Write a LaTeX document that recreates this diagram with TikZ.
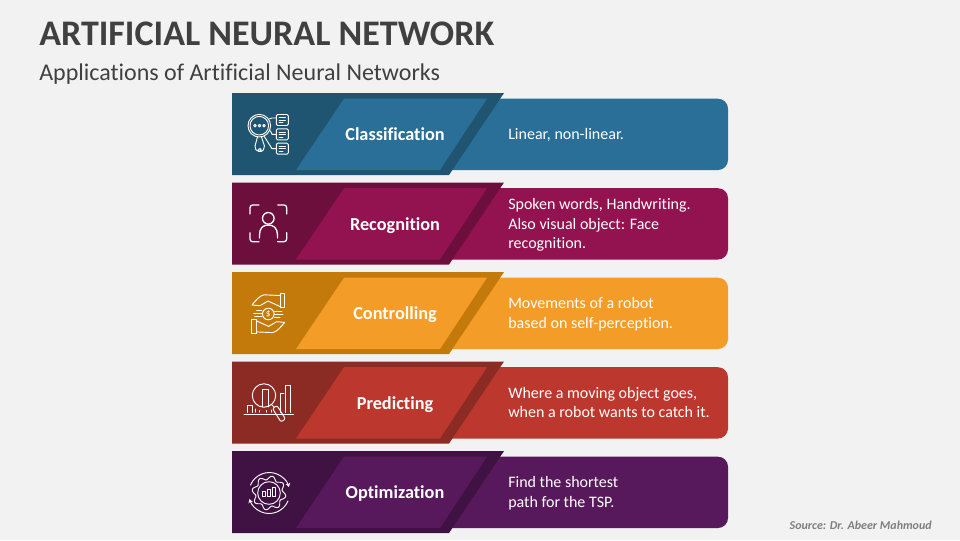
\documentclass[tikz,border=0pt]{standalone}
\usepackage{fontspec}
\setmainfont[Ligatures=NoCommon]{Carlito}
\usetikzlibrary{arrows.meta}
\definecolor{pagegray}{HTML}{F2F2F2}
\definecolor{titlegray}{HTML}{404040}
\definecolor{sourcegray}{HTML}{7F7F7F}
\definecolor{bluedark}{HTML}{1F5570}
\definecolor{bluemain}{HTML}{2A6F97}
\definecolor{maroondark}{HTML}{6D0F3C}
\definecolor{maroonmain}{HTML}{921350}
\definecolor{orangedark}{HTML}{C47A0A}
\definecolor{orangemain}{HTML}{F39C27}
\definecolor{reddark}{HTML}{8B2B23}
\definecolor{redmain}{HTML}{BC382E}
\definecolor{purpledark}{HTML}{401243}
\definecolor{purplemain}{HTML}{57195B}
\tikzset{
  bandlabel/.style={text=white,anchor=base,inner sep=0pt,font=\fontsize{13.7}{15}\selectfont\bfseries},
  bandtext/.style={text=white,anchor=west,align=left,inner sep=0pt,font=\fontsize{12}{14.5}\selectfont},
  iconline/.style={draw=white,line width=0.7pt,line join=round,line cap=round}
}
\newcommand{\appband}[6]{%
  \fill[#3] (440,#1+5.7) [rounded corners=7.5pt] --(728,#1+5.7) --(728,#1+77) [sharp corners] --(440,#1+77) --cycle;
  \fill[#2] (232,#1) --(504,#1) --(449,#1+82) --(232,#1+82) --cycle;
  \fill[#3] (344,#1+5.7) --(487,#1+5.7) --(440,#1+77) --(296,#1+77) --cycle;
  \node[bandlabel] (#4) at (395,#1+47.5) {#5};
  \node[bandtext] (#4 text) at (508,#1+42.7) {\strut #6\strut};
}
\begin{document}
\begin{tikzpicture}[x=0.75pt,y=-0.75pt]
    \useasboundingbox[fill=pagegray] (0,0) rectangle (960,540);
    \node[anchor=base west,inner sep=0pt,text=titlegray,font=\fontsize{27}{30}\selectfont\bfseries] (title) at (39,45.5) {ARTIFICIAL NEURAL NETWORK};
    \node[anchor=base west,inner sep=0pt,text=titlegray,font=\fontsize{18}{20}\selectfont] (subtitle) at (39,80.7) {Applications of Artificial Neural Networks};
    \node[anchor=base east,inner sep=0pt,text=sourcegray,font=\fontsize{9}{10}\selectfont\bfseries\itshape] (source) at (932,529) {Source: Dr. Abeer Mahmoud};
    \appband{93}{bluedark}{bluemain}{classification}{Classification}{Linear, non-linear.}
    \appband{182.5}{maroondark}{maroonmain}{recognition}{Recognition}{Spoken words, Handwriting.\\Also visual object: Face\\recognition.}
    \appband{272}{orangedark}{orangemain}{controlling}{Controlling}{Movements of a robot\\based on self-perception.}
    \appband{361.5}{reddark}{redmain}{predicting}{Predicting}{Where a moving object goes,\\when a robot wants to catch it.}
    \appband{451}{purpledark}{purplemain}{optimization}{Optimization}{Find the shortest\\path for the TSP.}
    \draw[iconline] (259.3,125.7) circle (11.3);
    \draw[iconline] (259.3,125.7) circle (9.3);
    \foreach \x in {255,259.5,264}
      \draw[iconline] (\x,125.7) circle (1.3);
    \draw[iconline] (257.5,137) --(255,146) arc (190:-10:4.8) --(261.5,137);
    \draw[iconline] (259.8,150) circle (1.6);
    \foreach \y in {120,134.3,148.7} {
      \draw[iconline,rounded corners=1pt] (276.3,\y-5.5) rectangle (288.3,\y+5.5);
      \draw[iconline,line width=0.4pt] (279,\y-2.5) --(285.5,\y-2.5) (279,\y) --(285.5,\y) (279,\y+2.5) --(283,\y+2.5);
    }
    \draw[iconline] (269,119) --(272,118) --(276.3,118);
    \draw[iconline] (270.5,131) --(272,134.3) --(276.3,134.3);
    \draw[iconline] (264,136) --(272,148.7) --(276.3,148.7);
    \draw[iconline,line width=1pt,rounded corners=2pt] (250,214) --(250,205) --(259,205);
    \draw[iconline,line width=1pt,rounded corners=2pt] (277.7,205) --(286.7,205) --(286.7,214);
    \draw[iconline,line width=1pt,rounded corners=2pt] (286.7,232.7) --(286.7,241.7) --(277.7,241.7);
    \draw[iconline,line width=1pt,rounded corners=2pt] (259,241.7) --(250,241.7) --(250,232.7);
    \draw[iconline,line width=1pt] (268.3,218.3) circle (5.8);
    \draw[iconline,line width=1pt] (259.5,238) --(259.5,235) .. controls (259.5,228) and (263,225) .. (268.3,225) .. controls (273.5,225) and (277.5,228) .. (277.5,235) --(277.5,238);
    \foreach \a in {0,180} {
      \begin{scope}[rotate around={\a:(268.3,313.7)}]
        \draw[iconline] (280,293.5) rectangle (284.7,307.7);
        \draw[iconline] (280,295.5) --(264,294.8) .. controls (260,295.5) and (256,300) .. (252,305) --(260,305.7) --(268,301) --(280,306.5);
        \draw[iconline,line width=0.4pt] (274.5,311) --(282,311) (274.5,314) --(283,314) (274.5,317) --(280,317);
      \end{scope}
    }
    \draw[iconline] (268.3,314) circle (5.8);
    \node[text=white,inner sep=0pt,font=\fontsize{7}{7}\selectfont] (dollar) at (268.3,314) {\$};
    \draw[iconline] (244,414.5) --(293.3,414.5);
    \draw[iconline] (264,395.5) circle (11.7);
    \draw[iconline] (271.5,404.5) --(274,407);
    \draw[iconline,rounded corners=1.5pt] (272.5,408.5) --(277,405.5) --(285.5,419) --(281,422) --cycle;
    \draw[iconline] (285.7,412.3) --(285.7,385) --(290.5,385) --(290.5,412.3);
    \draw[iconline] (280.5,412.3) --(280.5,393) --(283.8,393);
    \draw[iconline] (262.7,407) --(262.7,389.5) --(268.3,389.5) --(268.3,407);
    \draw[iconline] (247.3,412.3) --(247.3,405.7) --(252.7,405.7) --(252.7,412.3);
    \draw[iconline,line width=0.4pt] (255.5,412.3) --(255.5,409) (259,412.3) --(259,410.5) (266,412.3) --(266,410.5) (271,412.3) --(271,410);
    \draw[iconline] (269,493) circle (11.3);
    \draw[iconline] plot[domain=0:360,samples=145,smooth] ({269+15.2*cos(\x)*(1+0.12*sin(8*\x))},{493+15.2*sin(\x)*(1+0.12*sin(8*\x))});
    \draw[iconline,-{Stealth[length=3pt,width=3.5pt]}] (250.5,485) arc (-157:-17:20.5);
    \draw[iconline,-{Stealth[length=3pt,width=3.5pt]}] (288,501) arc (23:163:20.5);
    \draw[iconline] (262.5,496.5) rectangle (265.5,491.5);
    \draw[iconline] (267.5,496.5) rectangle (270.5,489.5);
    \draw[iconline] (272.5,496.5) rectangle (275.5,487);
\end{tikzpicture}
\end{document}
